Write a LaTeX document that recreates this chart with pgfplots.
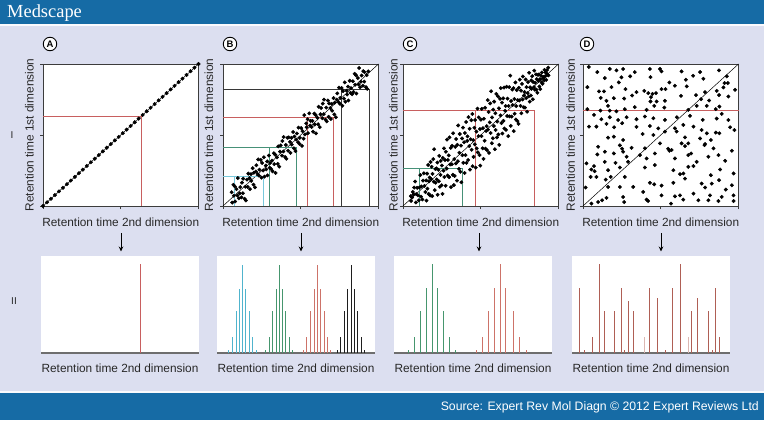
\documentclass[border=0pt]{standalone}
\usepackage{pgfplots}
\pgfplotsset{compat=1.18}
\usetikzlibrary{arrows.meta}
\usepackage{fontspec}
\setmainfont{Liberation Sans}
\newfontfamily\medfont{Liberation Serif}
\definecolor{headerblue}{RGB}{22,107,165}
\definecolor{bgcol}{RGB}{220,223,240}
\definecolor{axisgray}{RGB}{60,60,60}
\definecolor{labelgray}{RGB}{40,40,40}
\definecolor{linered}{RGB}{200,95,95}
\definecolor{linecyan}{RGB}{120,200,220}
\definecolor{linegreen}{RGB}{70,145,120}
\definecolor{linedark}{RGB}{55,55,55}
\definecolor{speccyan}{RGB}{80,180,205}
\definecolor{specgreen}{RGB}{70,150,110}
\definecolor{specred}{RGB}{205,115,105}
\definecolor{specdark}{RGB}{30,30,30}
\definecolor{specbrown}{RGB}{175,95,85}
\definecolor{basegray}{RGB}{110,110,110}
\newcommand{\lbl}{\fontsize{11.9}{13}\selectfont}
\pgfplotsset{
  toppanel/.style={width=155.5bp,height=142bp,scale only axis,
    xmin=0,xmax=1,ymin=0,ymax=1,
    xtick={0,0.5,1},ytick={0,0.5,1},xticklabels={},yticklabels={},
    tick align=outside,tick pos=left,major tick length=3bp,
    axis line style={draw=axisgray,line width=0.6pt},
    every tick/.style={draw=axisgray,line width=0.6pt},
    axis background/.style={fill=white},clip=false,
    xlabel={Retention time 2nd dimension},
    ylabel={Retention time 1st dimension},
    every axis x label/.style={at={(axis description cs:0.5,0)},anchor=north,inner sep=0pt,yshift=-12bp,font=\lbl,text=labelgray},
    every axis y label/.style={at={(axis description cs:-#1,0.5)},rotate=90,anchor=south,inner sep=0pt,font=\lbl,text=labelgray},
  },
  bottompanel/.style={width=158bp,height=97bp,scale only axis,
    xmin=0,xmax=1,ymin=0,ymax=1,
    axis x line*=bottom,axis y line=none,xtick=\empty,ytick=\empty,
    x axis line style={draw=basegray,line width=1.3pt},
    axis background/.style={fill=white},clip=false,
    xlabel={Retention time 2nd dimension},
    every axis x label/.style={at={(axis description cs:0.5,0)},anchor=north,inner sep=0pt,yshift=-10.5bp,font=\lbl,text=labelgray},
  },
  dots/.style={only marks,mark=*,mark size=1.75pt,mark options={draw=black,fill=black}},
}
\begin{document}
\begin{tikzpicture}[x=1bp,y=1bp]
\useasboundingbox (0,0) rectangle (764,420);
\fill[bgcol] (0,0) rectangle (764,420);
\fill[headerblue] (0,396) rectangle (764,420);
\fill[white!85!bgcol] (0,394) rectangle (764,396);
\fill[headerblue] (0,0) rectangle (764,27);
\fill[white!85!bgcol] (0,27) rectangle (764,29);
\node[anchor=base west,text=white,font=\medfont\fontsize{18.5}{19}\selectfont,inner sep=0pt] at (7,402) {Medscape};
\node[anchor=base east,text=white,font=\fontsize{12.3}{13}\selectfont,inner sep=0pt] at (759,10) {Source: Expert Rev Mol Diagn \textcopyright{} 2012 Expert Reviews Ltd};

% ---------- Panel A top
\begin{axis}[toppanel=0.058,at={(43bp,214bp)},anchor=south west]
\addplot[black,line width=0.5pt] coordinates {(0,0) (1,1)};
\addplot[linered,line width=0.7pt] coordinates {(0,0.628) (0.634,0.628) (0.634,0)};
\addplot[dots,mark size=1.8pt] coordinates {
(0,0)(0.026,0.026)(0.051,0.051)(0.077,0.077)(0.103,0.103)(0.128,0.128)(0.154,0.154)(0.179,0.179)(0.205,0.205)(0.231,0.231)
(0.256,0.256)(0.282,0.282)(0.308,0.308)(0.333,0.333)(0.359,0.359)(0.385,0.385)(0.41,0.41)(0.436,0.436)(0.462,0.462)(0.487,0.487)
(0.513,0.513)(0.538,0.538)(0.564,0.564)(0.59,0.59)(0.615,0.615)(0.641,0.641)(0.667,0.667)(0.692,0.692)(0.718,0.718)(0.744,0.744)
(0.769,0.769)(0.795,0.795)(0.821,0.821)(0.846,0.846)(0.872,0.872)(0.897,0.897)(0.923,0.923)(0.949,0.949)(0.974,0.974)(1,1)};
\end{axis}

% ---------- Panel B top
\begin{axis}[toppanel=0.061,at={(223bp,214bp)},anchor=south west]
\addplot[black,line width=0.5pt] coordinates {(0,0) (1,1)};
\addplot[linecyan,line width=0.7pt] coordinates {(0,0.211) (0.26,0.211) (0.26,0)};
\addplot[linecyan,line width=0.7pt] coordinates {(0.075,0) (0.075,0.211)};
\addplot[linegreen,line width=0.7pt] coordinates {(0,0.41) (0.30,0.41) (0.30,0)};
\addplot[linegreen,line width=0.7pt] coordinates {(0.47,0) (0.47,0.41) (0.30,0.41)};
\addplot[linered,line width=0.7pt] coordinates {(0,0.625) (0.71,0.625) (0.71,0)};
\addplot[linered,line width=0.7pt] coordinates {(0.545,0) (0.545,0.625)};
\addplot[linedark,line width=0.7pt] coordinates {(0,0.82) (0.94,0.82) (0.94,0)};
\addplot[linedark,line width=0.7pt] coordinates {(0.76,0) (0.76,0.82)};
\addplot[dots] coordinates {
(0.055,0.097)(0.059,0.024)(0.067,0.149)(0.070,0.072)(0.076,0.138)(0.078,0.032)(0.087,0.119)(0.092,0.074)(0.095,0.197)(0.102,0.054)
(0.107,0.089)(0.111,0.133)(0.119,0.061)(0.122,0.164)(0.128,0.090)(0.130,0.192)(0.139,0.051)(0.144,0.136)(0.147,0.039)(0.154,0.186)
(0.159,0.134)(0.163,0.228)(0.171,0.196)(0.174,0.119)(0.180,0.225)(0.182,0.177)(0.191,0.266)(0.196,0.151)(0.199,0.234)(0.206,0.131)
(0.211,0.243)(0.215,0.287)(0.223,0.225)(0.226,0.328)(0.232,0.214)(0.234,0.256)(0.243,0.325)(0.248,0.200)(0.251,0.303)(0.258,0.250)
(0.263,0.343)(0.267,0.207)(0.275,0.285)(0.278,0.258)(0.284,0.314)(0.286,0.216)(0.295,0.355)(0.300,0.270)(0.303,0.303)(0.310,0.260)
(0.315,0.320)(0.319,0.244)(0.327,0.372)(0.330,0.295)(0.336,0.361)(0.338,0.233)(0.347,0.342)(0.352,0.297)(0.355,0.420)(0.362,0.277)
(0.367,0.383)(0.371,0.427)(0.379,0.355)(0.382,0.458)(0.388,0.384)(0.390,0.486)(0.399,0.345)(0.404,0.430)(0.407,0.333)(0.414,0.480)
(0.419,0.389)(0.423,0.483)(0.431,0.451)(0.434,0.374)(0.440,0.480)(0.442,0.432)(0.451,0.521)(0.456,0.406)(0.459,0.489)(0.466,0.386)
(0.471,0.467)(0.475,0.511)(0.483,0.449)(0.486,0.552)(0.492,0.438)(0.494,0.480)(0.503,0.549)(0.508,0.424)(0.511,0.527)(0.518,0.474)
(0.523,0.640)(0.527,0.504)(0.535,0.582)(0.538,0.555)(0.544,0.611)(0.546,0.513)(0.555,0.652)(0.560,0.567)(0.563,0.600)(0.570,0.557)
(0.575,0.599)(0.579,0.523)(0.587,0.651)(0.590,0.574)(0.596,0.640)(0.598,0.512)(0.607,0.621)(0.612,0.576)(0.615,0.699)(0.622,0.556)
(0.627,0.646)(0.631,0.690)(0.639,0.618)(0.642,0.721)(0.648,0.647)(0.650,0.749)(0.659,0.608)(0.664,0.693)(0.667,0.596)(0.674,0.743)
(0.679,0.628)(0.683,0.722)(0.691,0.690)(0.694,0.613)(0.700,0.719)(0.702,0.671)(0.711,0.760)(0.716,0.645)(0.719,0.728)(0.726,0.625)
(0.731,0.749)(0.735,0.793)(0.743,0.731)(0.746,0.834)(0.752,0.720)(0.754,0.762)(0.763,0.831)(0.768,0.706)(0.771,0.809)(0.778,0.756)
(0.783,0.870)(0.787,0.734)(0.795,0.812)(0.798,0.785)(0.804,0.841)(0.806,0.743)(0.815,0.882)(0.820,0.797)(0.823,0.830)(0.830,0.787)
(0.835,0.879)(0.839,0.803)(0.847,0.931)(0.850,0.854)(0.856,0.920)(0.858,0.792)(0.867,0.901)(0.872,0.856)(0.875,0.972)(0.882,0.836)
(0.887,0.875)(0.891,0.919)(0.899,0.847)(0.902,0.950)(0.908,0.876)(0.910,0.943)(0.919,0.837)(0.924,0.922)(0.927,0.825)(0.934,0.948)};
\end{axis}

% ---------- Panel C top
\begin{axis}[toppanel=0.032,at={(403bp,214bp)},anchor=south west]
\addplot[black,line width=0.5pt] coordinates {(0,0) (1,1)};
\addplot[linered,line width=0.7pt] coordinates {(0,0.676) (0.844,0.676) (0.844,0)};
\addplot[linered,line width=0.7pt] coordinates {(0.466,0) (0.466,0.676)};
\addplot[linegreen,line width=0.7pt] coordinates {(0,0.265) (0.38,0.265) (0.38,0)};
\addplot[linegreen,line width=0.7pt] coordinates {(0.103,0) (0.103,0.265)};
\addplot[dots] coordinates {
(0.050,0.070)(0.052,0.036)(0.058,0.060)(0.063,0.099)(0.068,0.082)(0.072,0.130)(0.078,0.172)
(0.083,0.025)(0.085,0.084)(0.091,0.128)(0.096,0.075)(0.101,0.040)(0.105,0.130)(0.111,0.218)
(0.116,0.066)(0.118,0.138)(0.124,0.046)(0.129,0.179)(0.134,0.230)(0.138,0.142)(0.144,0.098)
(0.149,0.180)(0.151,0.038)(0.155,0.228)(0.157,0.122)(0.162,0.289)(0.165,0.085)(0.167,0.174)(0.171,0.201)(0.175,0.074)(0.177,0.310)
(0.182,0.189)(0.184,0.276)(0.188,0.070)(0.190,0.226)(0.195,0.330)(0.198,0.171)(0.200,0.400)(0.204,0.112)(0.208,0.261)(0.210,0.164)
(0.215,0.265)(0.217,0.188)(0.221,0.306)(0.223,0.079)(0.228,0.255)(0.231,0.174)(0.233,0.353)(0.237,0.135)(0.241,0.219)(0.243,0.318)
(0.248,0.146)(0.250,0.285)(0.254,0.086)(0.256,0.339)(0.261,0.249)(0.264,0.406)(0.266,0.204)(0.270,0.324)(0.274,0.142)(0.276,0.382)
(0.281,0.263)(0.283,0.467)(0.287,0.215)(0.289,0.324)(0.294,0.357)(0.297,0.203)(0.299,0.483)(0.303,0.292)(0.307,0.410)(0.309,0.133)
(0.314,0.294)(0.316,0.424)(0.320,0.220)(0.322,0.512)(0.327,0.147)(0.330,0.330)(0.332,0.212)(0.336,0.416)(0.340,0.300)(0.342,0.472)
(0.347,0.179)(0.349,0.431)(0.353,0.315)(0.355,0.567)(0.360,0.262)(0.363,0.375)(0.365,0.507)(0.369,0.241)(0.373,0.425)(0.375,0.167)
(0.380,0.476)(0.382,0.358)(0.386,0.552)(0.388,0.304)(0.393,0.449)(0.396,0.232)(0.398,0.514)(0.402,0.358)(0.406,0.592)(0.408,0.304)
(0.413,0.458)(0.415,0.490)(0.419,0.324)(0.421,0.626)(0.426,0.421)(0.429,0.544)(0.431,0.256)(0.435,0.470)(0.439,0.604)(0.441,0.396)
(0.446,0.648)(0.448,0.280)(0.452,0.464)(0.454,0.346)(0.459,0.551)(0.462,0.434)(0.464,0.606)(0.468,0.270)(0.472,0.524)(0.474,0.406)
(0.479,0.686)(0.481,0.378)(0.485,0.492)(0.487,0.624)(0.492,0.359)(0.495,0.542)(0.497,0.284)(0.501,0.608)(0.505,0.492)(0.507,0.684)
(0.512,0.406)(0.514,0.548)(0.518,0.332)(0.520,0.614)(0.525,0.459)(0.528,0.692)(0.530,0.404)(0.534,0.528)(0.538,0.562)(0.540,0.394)
(0.545,0.746)(0.547,0.538)(0.551,0.662)(0.553,0.374)(0.558,0.589)(0.561,0.722)(0.563,0.514)(0.567,0.808)(0.571,0.442)(0.573,0.624)
(0.578,0.477)(0.580,0.679)(0.584,0.563)(0.586,0.735)(0.591,0.400)(0.594,0.653)(0.596,0.535)(0.600,0.789)(0.604,0.483)(0.606,0.595)
(0.611,0.772)(0.613,0.504)(0.617,0.688)(0.619,0.430)(0.624,0.755)(0.627,0.638)(0.629,0.830)(0.633,0.584)(0.637,0.728)(0.639,0.510)
(0.644,0.758)(0.646,0.600)(0.650,0.834)(0.652,0.546)(0.657,0.671)(0.660,0.704)(0.662,0.536)(0.666,0.840)(0.670,0.634)(0.672,0.756)
(0.677,0.492)(0.679,0.704)(0.683,0.837)(0.685,0.631)(0.690,0.918)(0.693,0.564)(0.695,0.739)(0.699,0.630)(0.703,0.820)(0.705,0.711)
(0.710,0.830)(0.712,0.527)(0.716,0.754)(0.718,0.650)(0.723,0.870)(0.726,0.609)(0.728,0.704)(0.732,0.816)(0.736,0.598)(0.738,0.746)
(0.743,0.578)(0.745,0.832)(0.749,0.743)(0.751,0.890)(0.756,0.705)(0.759,0.812)(0.761,0.653)(0.765,0.860)(0.769,0.750)(0.771,0.912)
(0.776,0.695)(0.778,0.778)(0.782,0.802)(0.784,0.693)(0.789,0.891)(0.792,0.760)(0.794,0.837)(0.798,0.664)(0.802,0.795)(0.804,0.873)
(0.809,0.772)(0.811,0.938)(0.815,0.735)(0.817,0.836)(0.822,0.778)(0.825,0.885)(0.827,0.825)(0.831,0.914)(0.835,0.751)(0.837,0.873)
(0.842,0.837)(0.844,0.953)(0.848,0.818)(0.850,0.868)(0.855,0.927)(0.858,0.819)(0.860,0.894)(0.864,0.797)(0.868,0.923)(0.870,0.881)
(0.875,0.927)(0.877,0.842)(0.881,0.893)(0.883,0.823)(0.888,0.917)(0.891,0.871)(0.893,0.940)(0.897,0.861)(0.901,0.898)(0.903,0.908)
(0.908,0.885)(0.910,0.958)(0.914,0.913)(0.916,0.941)(0.921,0.888)(0.924,0.932)(0.926,0.957)(0.930,0.924)(0.934,0.974)(0.936,0.920)};
\end{axis}

% ---------- Panel D top
\begin{axis}[toppanel=0.051,at={(583bp,214bp)},anchor=south west]
\addplot[black,line width=0.5pt] coordinates {(0,0) (1,1)};
\addplot[linered,line width=0.7pt] coordinates {(0,0.672) (1,0.672)};
\addplot[dots] coordinates {
(0.037,0.979)(0.092,0.943)(0.172,0.965)(0.215,0.955)(0.258,0.965)(0.333,0.943)(0.430,0.965)(0.495,0.965)(0.505,0.948)(0.634,0.948)
(0.753,0.943)(0.875,0.955)(0.925,0.913)(0.140,0.901)(0.247,0.906)(0.303,0.913)(0.434,0.908)(0.555,0.870)(0.662,0.889)(0.708,0.917)
(0.774,0.896)(0.910,0.866)(0.931,0.866)(0.028,0.837)(0.103,0.807)(0.135,0.807)(0.183,0.837)(0.230,0.870)(0.273,0.823)(0.344,0.802)
(0.394,0.811)(0.419,0.795)(0.447,0.790)(0.469,0.795)(0.505,0.823)(0.531,0.823)(0.591,0.847)(0.667,0.842)(0.785,0.802)(0.860,0.811)
(0.903,0.835)(0.978,0.818)(0.114,0.762)(0.151,0.741)(0.198,0.759)(0.265,0.757)(0.316,0.778)(0.437,0.767)(0.434,0.736)(0.473,0.736)
(0.527,0.741)(0.630,0.776)(0.727,0.781)(0.759,0.752)(0.811,0.743)(0.875,0.781)(0.935,0.771)(0.028,0.682)(0.112,0.672)(0.161,0.705)
(0.172,0.672)(0.215,0.667)(0.269,0.682)(0.333,0.696)(0.409,0.677)(0.458,0.705)(0.523,0.693)(0.677,0.677)(0.731,0.705)(0.796,0.705)
(0.854,0.682)(0.877,0.700)(0.892,0.649)(0.071,0.642)(0.118,0.611)(0.172,0.625)(0.226,0.606)(0.280,0.625)(0.344,0.611)(0.398,0.630)
(0.452,0.618)(0.527,0.606)(0.604,0.625)(0.688,0.634)(0.770,0.606)(0.935,0.606)(0.860,0.616)(0.039,0.559)(0.086,0.559)(0.151,0.578)
(0.200,0.554)(0.252,0.583)(0.344,0.557)(0.430,0.564)(0.484,0.547)(0.591,0.547)(0.602,0.524)(0.645,0.571)(0.710,0.559)(0.763,0.535)
(0.796,0.512)(0.854,0.517)(0.877,0.512)(0.946,0.554)(0.974,0.535)(0.161,0.481)(0.198,0.488)(0.258,0.465)(0.383,0.507)(0.452,0.500)
(0.527,0.524)(0.634,0.441)(0.656,0.483)(0.677,0.441)(0.785,0.436)(0.753,0.476)(0.822,0.465)(0.097,0.417)(0.237,0.427)(0.252,0.403)
(0.312,0.410)(0.398,0.406)(0.495,0.441)(0.548,0.403)(0.570,0.394)(0.656,0.422)(0.781,0.429)(0.839,0.406)(0.957,0.389)(0.092,0.363)
(0.140,0.382)(0.198,0.370)(0.258,0.382)(0.280,0.347)(0.366,0.358)(0.409,0.335)(0.462,0.370)(0.555,0.389)(0.591,0.335)(0.677,0.358)
(0.695,0.370)(0.731,0.311)(0.806,0.347)(0.871,0.358)(0.914,0.318)(0.022,0.300)(0.071,0.281)(0.140,0.311)(0.209,0.304)(0.237,0.271)
(0.290,0.311)(0.398,0.271)(0.462,0.288)(0.581,0.252)(0.624,0.224)(0.645,0.229)(0.677,0.276)(0.710,0.281)(0.822,0.217)(0.882,0.257)
(0.968,0.229)(0.054,0.257)(0.075,0.245)(0.161,0.252)(0.049,0.205)(0.086,0.205)(0.146,0.186)(0.178,0.205)(0.269,0.205)(0.430,0.163)
(0.458,0.153)(0.505,0.144)(0.581,0.163)(0.656,0.193)(0.763,0.158)(0.828,0.158)(0.875,0.182)(0.957,0.146)(0.017,0.130)(0.161,0.134)
(0.237,0.134)(0.323,0.134)(0.387,0.099)(0.505,0.075)(0.591,0.068)(0.624,0.075)(0.710,0.087)(0.785,0.130)(0.918,0.116)(0.054,0.017)
(0.097,0.028)(0.123,0.040)(0.151,0.057)(0.258,0.064)(0.265,0.028)(0.409,0.045)(0.419,0.035)(0.566,0.017)(0.645,0.045)(0.742,0.040)
(0.817,0.075)(0.892,0.064)(0.968,0.035)(0.968,0.075)(0.806,0.040)(0.871,0.035)};
\end{axis}

% ---------- Bottom spectra
\begin{axis}[bottompanel,at={(41bp,67bp)},anchor=south west]
\addplot[ycomb,draw=linered,line width=0.7pt,mark=none] coordinates {(0.63,0.917)};
\end{axis}

\begin{axis}[bottompanel,at={(217bp,67bp)},anchor=south west]
\addplot[ycomb,draw=speccyan,line width=0.75pt,mark=none] coordinates {
(0.075,0.028)(0.099,0.162)(0.122,0.434)(0.143,0.662)(0.161,0.907)(0.182,0.662)(0.203,0.434)(0.224,0.162)(0.247,0.028)};
\addplot[ycomb,draw=specgreen,line width=0.75pt,mark=none] coordinates {
(0.306,0.028)(0.329,0.162)(0.352,0.434)(0.375,0.662)(0.394,0.907)(0.413,0.662)(0.434,0.434)(0.457,0.162)(0.478,0.028)};
\addplot[ycomb,draw=specred,line width=0.75pt,mark=none] coordinates {
(0.545,0.028)(0.566,0.162)(0.589,0.434)(0.614,0.662)(0.635,0.907)(0.656,0.662)(0.677,0.434)(0.698,0.162)(0.719,0.028)};
\addplot[ycomb,draw=specdark,line width=0.75pt,mark=none] coordinates {
(0.759,0.028)(0.782,0.162)(0.803,0.434)(0.826,0.662)(0.849,0.907)(0.870,0.662)(0.891,0.434)(0.912,0.162)(0.933,0.028)};
\end{axis}

\begin{axis}[bottompanel,at={(394bp,67bp)},anchor=south west]
\addplot[ycomb,draw=specgreen,line width=0.75pt,mark=none] coordinates {
(0.093,0.028)(0.131,0.166)(0.167,0.434)(0.205,0.669)(0.241,0.914)(0.277,0.669)(0.313,0.434)(0.351,0.166)(0.389,0.028)};
\addplot[ycomb,draw=specred,line width=0.75pt,mark=none] coordinates {
(0.524,0.028)(0.558,0.166)(0.600,0.434)(0.636,0.669)(0.670,0.914)(0.706,0.669)(0.753,0.434)(0.793,0.166)(0.839,0.028)};
\end{axis}

\begin{axis}[bottompanel,at={(572bp,67bp)},anchor=south west]
\addplot[ycomb,draw=specbrown,line width=0.75pt,mark=none] coordinates {
(0.044,0.666)(0.076,0.028)(0.127,0.162)(0.171,0.914)(0.205,0.434)(0.266,0.434)(0.311,0.666)(0.334,0.028)(0.355,0.538)(0.387,0.434)
(0.490,0.666)(0.543,0.566)(0.590,0.028)(0.634,0.666)(0.685,0.914)(0.755,0.434)(0.795,0.566)(0.863,0.434)(0.886,0.028)(0.909,0.666)(0.932,0.162)};
\addplot[ycomb,draw=specbrown!45,line width=0.75pt,mark=none] coordinates {(0.455,0.162)(0.734,0.162)};
\end{axis}

% ---------- circled letters, row labels, arrows
\foreach \xx/\ll in {50/A,230/B,410/C,587/D}{
  \node[circle,draw=black,line width=0.9pt,fill=white,inner sep=0pt,minimum size=13.5bp,
        font=\bfseries\fontsize{9.5}{10}\selectfont] at (\xx,376) {\ll};
}
\node[font=\fontsize{10}{11}\selectfont,text=labelgray] at (12,285) {I};
\node[font=\fontsize{10}{11}\selectfont,text=labelgray] at (14,119) {II};
\foreach \xx in {121,301,479,661}{
  \draw[-{Stealth[length=5bp,width=4.5bp]},line width=0.7pt,black] (\xx,187) -- (\xx,168.5);
}
\end{tikzpicture}
\end{document}
